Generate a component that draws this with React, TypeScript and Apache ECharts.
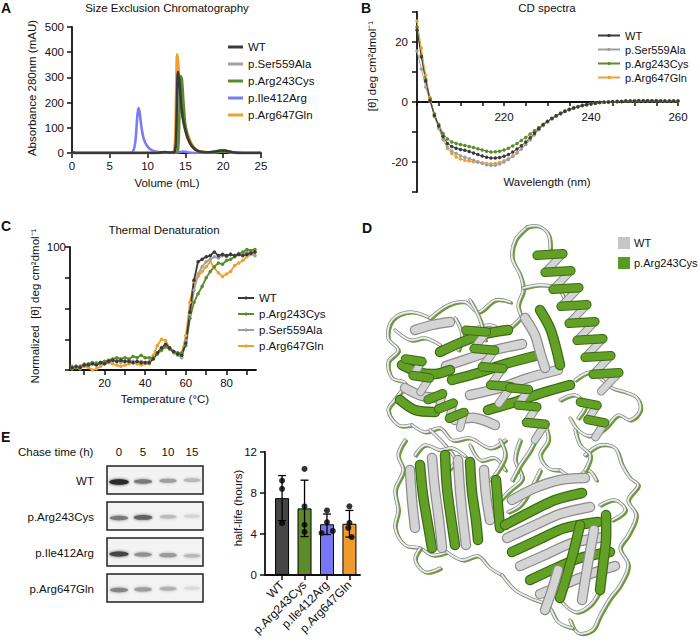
import React, { useEffect, useRef } from "react";
import * as echarts from "echarts";

const FONT = "'Liberation Sans', Arial, Helvetica, sans-serif";
const INK = "#111";

// ---------------- Panel A: size exclusion chromatography ----------------
const secLegendOrder = ["WT", "p.Ser559Ala", "p.Arg243Cys", "p.Ile412Arg", "p.Arg647Gln"];
const secWT = [[0, 4], [0.4, 0], [5, 0], [10, 0], [11.5, 1], [12.3, 4], [12.8, 2], [13.5, 2], [13.75, 40], [13.95, 300], [14.05, 322], [14.25, 270], [14.5, 175], [14.8, 115], [15.2, 68], [15.6, 40], [16, 22], [16.5, 10], [17, 5], [18, 3], [19, 6], [19.6, 10], [20.2, 10], [20.8, 6], [21.5, 2], [22.5, 0], [25, 0]];
const secSer559Ala = [[0, 3], [0.4, 0], [11, 0], [12.5, 3], [13.5, 2], [13.8, 50], [14.0, 290], [14.1, 300], [14.3, 240], [14.6, 150], [15, 90], [15.5, 45], [16, 22], [16.5, 10], [17, 4], [18, 2], [19, 5], [20, 9], [21, 4], [22, 0], [25, 0]];
const secArg243Cys = [[0, 2], [0.4, 0], [11, 0], [12.5, 2], [13.9, 2], [14.1, 40], [14.3, 250], [14.4, 305], [14.55, 290], [14.75, 200], [15.0, 110], [15.4, 55], [15.8, 30], [16.3, 14], [17, 5], [18, 2], [19, 3], [20, 6], [21, 3], [22, 0], [25, 0]];
const secIle412Arg = [[0, 2], [0.4, 0], [7.6, 0], [8.1, 8], [8.4, 50], [8.65, 150], [8.8, 178], [8.95, 160], [9.2, 100], [9.5, 55], [9.9, 30], [10.4, 14], [11, 6], [12, 2], [13.5, 1], [14.2, 4], [14.8, 6], [15.4, 2], [17, 0], [18.5, 3], [19.5, 9], [20.2, 10], [21, 4], [22, 0], [25, 0]];
const secArg647Gln = [[0, 3], [0.4, 0], [11, 0], [12.5, 3], [13.4, 2], [13.65, 60], [13.85, 370], [13.92, 392], [14.05, 360], [14.25, 265], [14.5, 185], [14.8, 130], [15.2, 85], [15.6, 52], [16, 28], [16.5, 13], [17, 5], [18, 2], [19, 4], [20, 7], [21, 3], [22, 0], [25, 0]];

// ---------------- Panel B: CD spectra ----------------
const cdWavelength = [200, 201, 202, 203, 204, 205, 206, 207, 208, 209, 210, 211, 212, 213, 214, 215, 216, 217, 218, 219, 220, 221, 222, 223, 224, 225, 226, 227, 228, 229, 230, 231, 232, 233, 234, 235, 236, 237, 238, 239, 240, 241, 242, 243, 244, 245, 246, 247, 248, 249, 250, 251, 252, 253, 254, 255, 256, 257, 258, 259, 260];
const cdWT = [24, 15, 7, 0.5, -4.5, -8, -11.5, -13.8, -14.8, -15.4,
  -15.8, -16.1, -16.5, -17, -17.5, -18, -18.4, -18.7, -18.7, -18.5,
  -18.1, -17.5, -16.7, -15.7, -14.6, -13.3, -11.9, -10.4, -8.9, -7.6,
  -6.5, -5.5, -4.6, -3.8, -3.1, -2.5, -2, -1.6, -1.2, -0.9,
  -0.6, -0.4, -0.2, -0.1, 0, 0.1, 0.2, 0.2, 0.3, 0.3,
  0.3, 0.4, 0.4, 0.4, 0.4, 0.4, 0.3, 0.3, 0.3, 0.3, 0.3];
const cdArg243Cys = [25, 15.5, 7.5, 1, -4, -7.5, -10.5, -12.3, -13.3, -13.8,
  -14.2, -14.5, -14.8, -15.2, -15.6, -16, -16.4, -16.7, -16.6, -16.4,
  -16, -15.4, -14.7, -13.8, -12.8, -11.8, -10.7, -9.6, -8.5, -7.4,
  -6.4, -5.4, -4.5, -3.7, -3, -2.4, -1.9, -1.5, -1.1, -0.8,
  -0.5, -0.3, -0.1, 0, 0.1, 0.1, 0.2, 0.2, 0.3, 0.3,
  0.3, 0.4, 0.4, 0.4, 0.4, 0.4, 0.3, 0.3, 0.3, 0.3, 0.3];
const cdSer559Ala = [17, 11, 5, 0.3, -4.8, -8.8, -12.5, -15, -16.3, -17.2,
  -17.9, -18.4, -18.9, -19.4, -19.9, -20.4, -20.9, -21.2, -21.1, -20.7,
  -20, -19.2, -18.2, -17, -15.7, -14.2, -12.6, -10.9, -9.2, -7.8,
  -6.6, -5.6, -4.7, -3.9, -3.2, -2.6, -2.1, -1.6, -1.2, -0.9,
  -0.6, -0.4, -0.2, -0.1, 0, 0.1, 0.2, 0.2, 0.3, 0.3,
  0.3, 0.4, 0.4, 0.4, 0.4, 0.4, 0.3, 0.3, 0.3, 0.3, 0.3];
const cdArg647Gln = [27, 18, 9, 1.5, -4, -8.5, -12.5, -15.5, -17.2, -18.3,
  -19, -19.4, -19.7, -19.9, -20.1, -20.3, -20.5, -20.6, -20.5, -20.2,
  -19.6, -18.9, -18, -16.9, -15.6, -14.1, -12.5, -10.9, -9.2, -7.8,
  -6.6, -5.6, -4.7, -3.9, -3.2, -2.6, -2.1, -1.6, -1.2, -0.9,
  -0.6, -0.4, -0.2, -0.1, 0, 0.1, 0.2, 0.2, 0.3, 0.3,
  0.3, 0.4, 0.4, 0.4, 0.4, 0.4, 0.3, 0.3, 0.3, 0.3, 0.3];
const cdXLabels = [220, 240, 260];
const cdYLabels = [-20, 0, 20];

// ---------------- Panel C: thermal denaturation ----------------
const thermalTemp = [4, 6, 8, 10, 12, 14, 16, 18, 20, 22, 24, 26, 28, 30, 32, 34, 36, 38, 40, 42, 44, 46, 48, 50, 52, 54, 56, 58, 60, 62, 64, 66, 68, 70, 72, 74, 76, 78, 80, 82, 84, 86, 88, 90, 92, 94];
const thermalWT = [2, 3, 2, 4, 4, 5, 4, 6, 5, 7,
  8, 7, 8, 7, 7, 6, 7, 6, 6, 6,
  9, 14, 18, 21, 18, 15, 13, 12, 22, 47,
  73, 88, 90, 92, 93, 96, 93, 94, 93, 94,
  93, 94, 93, 94, 95, 96];
const thermalArg243Cys = [1, 2, 3, 4, 5, 6, 5, 6, 7, 8,
  9, 10, 9, 10, 9, 11, 10, 12, 10, 10,
  10, 13, 16, 19, 17, 15, 14, 14, 20, 42,
  55, 62, 68, 75, 80, 84, 87, 86, 89, 90,
  92, 94, 96, 98, 97, 98];
const thermalSer559Ala = [3, 2, 3, 5, 4, 5, 6, 5, 6, 7,
  7, 8, 6, 7, 8, 7, 6, 7, 6, 7,
  10, 14, 17, 19, 17, 14, 12, 10, 24, 45,
  65, 78, 84, 88, 90, 92, 91, 93, 92, 94,
  93, 95, 94, 96, 95, 93];
const thermalArg647Gln = [1, 2, 1, 3, 2, 0, 1, 3, 5, 6,
  5, 4, 3, 4, 5, 6, 5, 4, 5, 5,
  12, 20, 25, 24, 18, 14, 13, 14, 28, 55,
  72, 76, 80, 84, 88, 83, 79, 76, 78, 80,
  85, 87, 89, 92, 94, 96];
const thermalXTicks = [10, 20, 30, 40, 50, 60, 70, 80, 90];
const thermalXLabels = [20, 40, 60, 80];

// ---------------- Panel E: pulse-chase half-life ----------------
const halfLifeCategories = ["WT", "p.Arg243Cys", "p.Ile412Arg", "p.Arg647Gln"];
const halfLifeMean = [7.5, 6.5, 4.95, 5.0];
const halfLifeSD = [2.2, 2.75, 1.0, 1.3];
const halfLifeReplicates = [[9.2, 8.4, 5.05], [10.35, 6.7, 4.9, 4.2], [6.3, 5.15, 4.1, 4.3], [6.7, 5.1, 4.6, 3.7]];
const replicateJitter = [[0, 0, 0], [0, 0, 0, 0], [0, 0, -0.24, 0.26], [0, 0, -0.05, 0.1]];
const chaseTimes = ["0", "5", "10", "15"];
const blotRows = ["WT", "p.Arg243Cys", "p.Ile412Arg", "p.Arg647Gln"];
const blotIntensity = [
  [0.92, 0.55, 0.38, 0.25],
  [0.55, 0.65, 0.25, 0.12],
  [0.8, 0.45, 0.4, 0.25],
  [0.5, 0.38, 0.3, 0.1],
];

const COLORS: Record<string, string> = {
  "WT": "#3a3a3a",
  "p.Ser559Ala": "#a0a0a0",
  "p.Arg243Cys": "#5b8c2a",
  "p.Ile412Arg": "#7b7bf3",
  "p.Arg647Gln": "#f0a02c",
};
const BAR_COLORS = ["#454545", "#5d8a2b", "#7777f5", "#ef9b2b"];

const axisLine = { show: true, onZero: false, lineStyle: { color: INK, width: 1.8 } };
const axisTick = { show: true, length: 5, lineStyle: { color: INK, width: 1.5 } };
const label = (extra: any = {}) => ({ color: INK, fontSize: 11.5, fontFamily: FONT, ...extra });

function optionA(): any {
  const mk = (name: string, data: number[][]) => ({
    name, type: "line", data, symbol: "none", smooth: 0.2,
    lineStyle: { color: COLORS[name], width: 2.6 }, itemStyle: { color: COLORS[name] },
  });
  return {
    animation: false,
    grid: { left: 72, top: 27, width: 189, height: 126 },
    xAxis: { type: "value", min: 0, max: 25, interval: 5, axisLine, axisTick, axisLabel: label({ margin: 7 }), splitLine: { show: false } },
    yAxis: { type: "value", min: 0, max: 500, interval: 100, axisLine, axisTick, axisLabel: label({ margin: 8 }), splitLine: { show: false } },
    legend: {
      left: 223, top: 36, orient: "vertical", icon: "rect", itemWidth: 15, itemHeight: 3, itemGap: 5,
      data: secLegendOrder, textStyle: { color: INK, fontSize: 11.5, fontFamily: FONT },
    },
    series: [
      mk("p.Ile412Arg", secIle412Arg),
      mk("p.Ser559Ala", secSer559Ala),
      mk("p.Arg647Gln", secArg647Gln),
      mk("p.Arg243Cys", secArg243Cys),
      mk("WT", secWT),
    ],
  };
}

function optionB(): any {
  const mk = (name: string, vals: number[]) => ({
    name, type: "line", data: cdWavelength.map((w, i) => [w, vals[i]]),
    symbol: "circle", symbolSize: 3.5,
    lineStyle: { color: COLORS[name], width: 1 }, itemStyle: { color: COLORS[name] },
  });
  return {
    animation: false,
    grid: { left: 417, top: 12, width: 261, height: 180 },
    xAxis: {
      type: "value", min: 200, max: 260, interval: 5, position: "bottom", offset: -90,
      axisLine: { show: true, onZero: false, lineStyle: { color: INK, width: 1.8 } },
      axisTick: { show: true, length: 4, lineStyle: { color: INK, width: 1.5 } },
      axisLabel: label({ margin: 9, formatter: (v: number) => (cdXLabels.includes(v) ? String(v) : "") }),
      splitLine: { show: false },
    },
    yAxis: {
      type: "value", min: -30, max: 30, interval: 10, axisLine, axisTick,
      axisLabel: label({ margin: 9, formatter: (v: number) => (cdYLabels.includes(v) ? String(v) : "") }),
      splitLine: { show: false },
    },
    legend: {
      left: 592, top: 25, orient: "vertical", itemWidth: 22, itemHeight: 4, itemGap: 3,
      data: ["WT", "p.Ser559Ala", "p.Arg243Cys", "p.Arg647Gln"],
      textStyle: { color: INK, fontSize: 11, fontFamily: FONT },
    },
    series: [
      mk("p.Arg647Gln", cdArg647Gln),
      mk("p.Arg243Cys", cdArg243Cys),
      mk("p.Ser559Ala", cdSer559Ala),
      mk("WT", cdWT),
    ],
  };
}

function optionC(): any {
  const mk = (name: string, vals: number[]) => ({
    name, type: "line", data: thermalTemp.map((t, i) => [t, vals[i]]),
    symbol: "circle", symbolSize: 3.5,
    lineStyle: { color: COLORS[name], width: 1.8 }, itemStyle: { color: COLORS[name] },
  });
  return {
    animation: false,
    grid: { left: 70, top: 247, width: 186, height: 123 },
    xAxis: {
      type: "value", min: 3, max: 94.5, axisLine,
      axisTick: { ...axisTick, customValues: thermalXTicks },
      axisLabel: label({ margin: 7, customValues: thermalXLabels }),
      splitLine: { show: false },
    },
    yAxis: {
      type: "value", min: 0, max: 100, interval: 25, axisLine, axisTick,
      axisLabel: label({ margin: 4, formatter: (v: number) => (v === 100 ? "100" : "") }),
      splitLine: { show: false },
    },
    legend: {
      left: 232, top: 287, orient: "vertical", itemWidth: 16, itemHeight: 4, itemGap: 4,
      data: ["WT", "p.Arg243Cys", "p.Ser559Ala", "p.Arg647Gln"],
      textStyle: { color: INK, fontSize: 11.5, fontFamily: FONT },
    },
    series: [
      mk("p.Arg647Gln", thermalArg647Gln),
      mk("p.Ser559Ala", thermalSer559Ala),
      mk("p.Arg243Cys", thermalArg243Cys),
      mk("WT", thermalWT),
    ],
  };
}

function optionE(): any {
  const idx = halfLifeCategories.map((_, i) => i);
  const errData = halfLifeMean.map((m, i) => [i, m - halfLifeSD[i], m + halfLifeSD[i]]);
  const pts: number[][] = [];
  halfLifeReplicates.forEach((arr, i) => arr.forEach((v, j) => pts.push([i + replicateJitter[i][j], v])));
  return {
    animation: false,
    grid: { left: 265, top: 452, width: 95, height: 123 },
    xAxis: {
      type: "value", min: -0.76, max: 3.47, axisLine,
      axisTick: { ...axisTick, customValues: idx },
      axisLabel: label({ margin: 8, rotate: 45, fontSize: 12, customValues: idx, formatter: (v: number) => halfLifeCategories[Math.round(v)] }),
      splitLine: { show: false },
    },
    yAxis: {
      type: "value", min: 0, max: 12, interval: 4, axisLine, axisTick,
      axisLabel: label({ margin: 8 }), splitLine: { show: false },
    },
    series: [
      {
        type: "bar", barWidth: 14,
        data: halfLifeMean.map((m, i) => ({ value: [i, m], itemStyle: { color: BAR_COLORS[i], borderColor: "#000", borderWidth: 1 } })),
      },
      {
        type: "custom", data: errData, z: 5,
        renderItem: (_p: any, api: any) => {
          const x = api.value(0);
          const lo = api.coord([x, api.value(1)]);
          const hi = api.coord([x, api.value(2)]);
          const st = { stroke: "#000", lineWidth: 1.3 };
          return {
            type: "group",
            children: [
              { type: "line", shape: { x1: lo[0], y1: lo[1], x2: hi[0], y2: hi[1] }, style: st },
              { type: "line", shape: { x1: lo[0] - 4, y1: lo[1], x2: lo[0] + 4, y2: lo[1] }, style: st },
              { type: "line", shape: { x1: hi[0] - 4, y1: hi[1], x2: hi[0] + 4, y2: hi[1] }, style: st },
            ],
          };
        },
      },
      { type: "scatter", data: pts, symbolSize: 6, itemStyle: { color: "#000" }, z: 6 },
    ],
  };
}

// ---------------- Decoration: structure (panel D) ----------------
const G_FILL = "#63a126", G_EDGE = "#3c6c12", W_FILL = "#d4d4d4", W_EDGE = "#8c8c8c";
const dLoops: number[][][] = [
  [[527, 227], [515, 240], [512, 258], [520, 275], [523, 290], [518, 305], [522, 318]],
  [[527, 227], [538, 226], [548, 234], [550, 248]],
  [[523, 288], [540, 285], [557, 288], [565, 300]],
  [[430, 318], [410, 312], [392, 320], [388, 338], [398, 350], [388, 362], [392, 378], [405, 383], [396, 398], [388, 410], [398, 425], [412, 425]],
  [[412, 425], [425, 432], [440, 428], [452, 440], [470, 438], [490, 448], [505, 440]],
  [[430, 318], [448, 305], [465, 302], [478, 312], [495, 300], [510, 302]],
  [[575, 380], [590, 372], [600, 378], [612, 388], [625, 392], [637, 398], [640, 410], [630, 420], [618, 415], [605, 428], [590, 436], [578, 430], [570, 418]],
  [[545, 425], [548, 440], [540, 455], [548, 468], [560, 470]],
  [[405, 440], [398, 455], [403, 470], [395, 490], [398, 510], [395, 528], [405, 545], [420, 548], [432, 555], [447, 552]],
  [[447, 552], [462, 560], [478, 556], [490, 568], [502, 575]],
  [[585, 455], [600, 445], [615, 448], [622, 465], [630, 478], [638, 485], [628, 500], [636, 515], [628, 535], [620, 548], [628, 565], [620, 585], [610, 598], [600, 615], [592, 630], [578, 633], [570, 620]],
  [[502, 575], [515, 590], [530, 598], [548, 606], [558, 622], [572, 628]],
  [[520, 440], [515, 460], [522, 478], [510, 490], [500, 500]],
  [[470, 445], [480, 460], [495, 458], [505, 470]],
  [[520, 318], [505, 330], [490, 325], [470, 330]],
  [[560, 470], [575, 478], [588, 470], [596, 480]],
  [[430, 430], [445, 445], [455, 460], [448, 470]],
  [[500, 440], [505, 455], [498, 470], [490, 480]],
  [[540, 430], [530, 450], [520, 465], [512, 480]],
  [[575, 430], [580, 445], [590, 455], [585, 470]],
  [[395, 330], [410, 340], [425, 338], [440, 345]],
  [[470, 300], [480, 320], [485, 340]],
  [[415, 455], [425, 445], [440, 450], [452, 448], [465, 456]],
  [[420, 548], [415, 560], [425, 572], [440, 568]],
  [[560, 600], [575, 612], [590, 605], [600, 590]],
  [[540, 470], [530, 490], [520, 505], [508, 512]],
  [[600, 505], [615, 500], [625, 510], [612, 520]],
  [[455, 318], [462, 335], [458, 350]],
  [[560, 400], [575, 395], [585, 405], [578, 418]],
];
const dStrands: { p: number[][]; c: string }[] = [
  { p: [[420, 465], [423, 495], [428, 525], [432, 548]], c: "g" },
  { p: [[432, 458], [435, 490], [439, 520], [442, 548]], c: "w" },
  { p: [[445, 455], [447, 488], [451, 518], [455, 545]], c: "g" },
  { p: [[458, 460], [460, 490], [463, 520], [466, 545]], c: "w" },
  { p: [[470, 462], [472, 492], [476, 520], [478, 540]], c: "g" },
  { p: [[484, 470], [486, 495], [490, 520]], c: "w" },
  { p: [[410, 470], [412, 500], [415, 528]], c: "w" },
  { p: [[496, 480], [498, 505], [500, 528]], c: "g" },
  { p: [[505, 525], [530, 512], [555, 500], [582, 493]], c: "g" },
  { p: [[507, 538], [533, 526], [560, 514], [590, 507]], c: "w" },
  { p: [[512, 552], [538, 540], [565, 528], [598, 522]], c: "g" },
  { p: [[520, 566], [545, 555], [572, 543], [605, 537]], c: "w" },
  { p: [[530, 580], [556, 568], [580, 558], [610, 552]], c: "g" },
  { p: [[540, 594], [565, 584], [590, 574], [615, 566]], c: "w" },
  { p: [[560, 598], [567, 575], [574, 550], [580, 525]], c: "g" },
  { p: [[582, 600], [586, 575], [590, 552], [594, 530]], c: "w" },
  { p: [[600, 590], [603, 565], [606, 540], [606, 515]], c: "g" },
  { p: [[545, 610], [552, 590], [558, 570]], c: "w" },
  { p: [[512, 500], [535, 488], [560, 480], [585, 478]], c: "w" },
  { p: [[440, 352], [462, 342], [485, 334], [508, 330]], c: "g" },
  { p: [[446, 366], [470, 358], [495, 350], [522, 344]], c: "w" },
  { p: [[452, 380], [478, 373], [505, 364], [535, 356]], c: "g" },
  { p: [[470, 395], [500, 388], [528, 378], [558, 370]], c: "w" },
  { p: [[488, 410], [515, 402], [545, 392], [570, 385]], c: "g" },
  { p: [[525, 318], [535, 335], [540, 352], [545, 368]], c: "w" },
  { p: [[540, 310], [550, 328], [556, 348], [560, 365]], c: "g" },
  { p: [[402, 365], [418, 372], [435, 374], [450, 370]], c: "g" },
  { p: [[405, 388], [422, 396], [440, 398]], c: "w" },
  { p: [[400, 400], [415, 410], [435, 412]], c: "g" },
  { p: [[415, 330], [432, 325], [450, 322]], c: "w" },
  { p: [[455, 420], [475, 418], [495, 425]], c: "w" },
];
const dHelices: { a: number[]; b: number[]; n: number; r: number }[] = [
  { a: [546, 246], b: [610, 382], n: 8, r: 12 },
  { a: [472, 322], b: [505, 395], n: 4, r: 9 },
  { a: [515, 380], b: [540, 432], n: 3, r: 8 },
  { a: [410, 352], b: [425, 385], n: 2, r: 7 },
  { a: [430, 392], b: [462, 420], n: 3, r: 7 },
  { a: [585, 395], b: [600, 430], n: 2, r: 7 },
];

function structureElements(): any[] {
  const els: any[] = [];
  const pl = (pts: number[][], stroke: string, w: number, smooth = 0.35) => ({
    type: "polyline", shape: { points: pts, smooth }, silent: true,
    style: { stroke, lineWidth: w, fill: null, lineCap: "round", lineJoin: "round" },
  });
  dLoops.forEach((pts) => {
    els.push(pl(pts.map(([x, y]) => [x + 1.6, y + 1.2]), G_FILL, 2.8));
    els.push(pl(pts, W_EDGE, 3.4));
    els.push(pl(pts, "#ececec", 1.8));
  });
  dStrands.forEach(({ p, c }) => {
    els.push(pl(p, c === "g" ? G_EDGE : W_EDGE, 10.5, 0.3));
    els.push(pl(p, c === "g" ? G_FILL : W_FILL, 8, 0.3));
  });
  dHelices.forEach(({ a, b, n, r }) => {
    const dx = b[0] - a[0], dy = b[1] - a[1];
    const len = Math.hypot(dx, dy);
    const ux = dx / len, uy = dy / len, nx = uy, ny = -ux;
    const step = len / n;
    for (let k = 0; k < n; k++) {
      const cx = a[0] + ux * step * (k + 0.5), cy = a[1] + uy * step * (k + 0.5);
      const L = [cx - nx * r - ux * step * 0.25, cy - ny * r - uy * step * 0.25];
      const R = [cx + nx * r + ux * step * 0.25, cy + ny * r + uy * step * 0.25];
      const L2 = [L[0] + ux * step, L[1] + uy * step];
      els.push(pl([R, L2], W_EDGE, 8.5, 0));
      els.push(pl([R, L2], W_FILL, 6.5, 0));
      els.push(pl([L, R], G_EDGE, 9.5, 0));
      els.push(pl([L, R], G_FILL, 7.5, 0));
    }
  });
  return els;
}

function txt(text: string, x: number, y: number, opts: any = {}) {
  const { rotation, ...style } = opts;
  return {
    type: "text", x, y, rotation: rotation || 0, silent: true,
    style: { text, fill: INK, fontSize: 11.5, fontFamily: FONT, textAlign: "center", textVerticalAlign: "middle", ...style },
  };
}

function optionGraphics(): any {
  const els: any[] = [];
  const bold = { fontSize: 14, fontWeight: "bold", textAlign: "left", textVerticalAlign: "top" };
  els.push(txt("A", 1, 1, bold), txt("B", 361, 1, bold), txt("C", 1, 219, bold), txt("D", 362, 221, bold), txt("E", 1, 430, bold));
  // titles & axis names
  els.push(txt("Size Exclusion Chromatography", 167, 8));
  els.push(txt("Volume (mL)", 167, 183));
  els.push(txt("Absorbance 280nm (mAU)", 32, 88, { rotation: Math.PI / 2 }));
  els.push(txt("CD spectra", 547, 8));
  els.push(txt("Wavelength (nm)", 547, 182));
  els.push(txt("[θ] deg cm²dmol⁻¹", 372, 66, { rotation: Math.PI / 2 }));
  els.push(txt("Thermal Denaturation", 164, 230));
  els.push(txt("Temperature (°C)", 165, 399));
  els.push(txt("Normalized  [θ] deg cm²dmol⁻¹", 35, 306, { rotation: Math.PI / 2 }));
  els.push(txt("half-life (hours)", 238, 508, { rotation: Math.PI / 2 }));
  // blot
  els.push(txt("Chase time (h)", 18, 452, { textAlign: "left" }));
  const laneX = [119, 143, 168, 192];
  const boxY = [466, 502, 538, 574];
  chaseTimes.forEach((t, i) => els.push(txt(t, laneX[i], 452)));
  blotRows.forEach((r, i) => {
    els.push(txt(r, 94, boxY[i] + 15, { textAlign: "right" }));
    els.push({ type: "rect", silent: true, shape: { x: 107, y: boxY[i], width: 96, height: 28 }, style: { fill: "#f3f3f3", stroke: "#222", lineWidth: 1.5 } });
    blotIntensity[i].forEach((v, j) => {
      const g = Math.round(240 - v * 215);
      const col = `rgb(${g},${g},${g})`;
      els.push({
        type: "ellipse", silent: true,
        shape: { cx: laneX[j], cy: boxY[i] + 16 - j * 0.6 + (i === 2 ? j * 1.2 : 0), rx: 8 + v * 2, ry: 1.6 + v * 1.2 },
        style: { fill: col, shadowBlur: 3, shadowColor: col },
      });
    });
  });
  // panel D
  els.push(...structureElements());
  els.push({ type: "rect", silent: true, shape: { x: 618, y: 237, width: 12, height: 12 }, style: { fill: "#c6c6c6" } });
  els.push({ type: "rect", silent: true, shape: { x: 618, y: 257, width: 12, height: 12 }, style: { fill: "#5a9a20" } });
  els.push(txt("WT", 634, 243, { textAlign: "left", fontSize: 11 }));
  els.push(txt("p.Arg243Cys", 634, 263, { textAlign: "left", fontSize: 11 }));
  return { animation: false, graphic: { elements: els } };
}

export default function App() {
  const r0 = useRef<HTMLDivElement>(null);
  const r1 = useRef<HTMLDivElement>(null);
  const r2 = useRef<HTMLDivElement>(null);
  const r3 = useRef<HTMLDivElement>(null);
  const r4 = useRef<HTMLDivElement>(null);
  useEffect(() => {
    const pairs: [any, () => any][] = [
      [r0, optionGraphics], [r1, optionA], [r2, optionB], [r3, optionC], [r4, optionE],
    ];
    const charts = pairs.map(([ref, fn]) => {
      const c = echarts.init(ref.current, undefined, { renderer: "svg", width: 700, height: 643 });
      c.setOption(fn());
      return c;
    });
    return () => charts.forEach((c) => c.dispose());
  }, []);
  const layer: React.CSSProperties = { position: "absolute", left: 0, top: 0, width: 700, height: 643 };
  return (
    <div style={{ position: "absolute", left: 0, top: 0, width: 700, height: 643, background: "#fff", overflow: "hidden" }}>
      <div ref={r0} style={layer} />
      <div ref={r1} style={layer} />
      <div ref={r2} style={layer} />
      <div ref={r3} style={layer} />
      <div ref={r4} style={layer} />
    </div>
  );
}
